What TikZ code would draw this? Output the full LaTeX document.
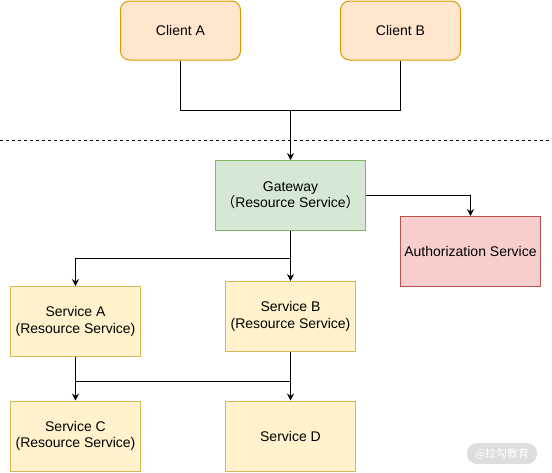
\documentclass[tikz,border=0pt]{standalone}
\usepackage{fontspec}
\setmainfont{Liberation Sans}
\newfontfamily\cjkfont{Noto Sans CJK SC}
\usetikzlibrary{arrows.meta}
\definecolor{clientfill}{HTML}{FFE6CC}
\definecolor{clientdraw}{HTML}{D79B00}
\definecolor{gwfill}{HTML}{D5E8D4}
\definecolor{gwdraw}{HTML}{82B366}
\definecolor{authfill}{HTML}{F8CECC}
\definecolor{authdraw}{HTML}{B85450}
\definecolor{svcfill}{HTML}{FFF2CC}
\definecolor{svcdraw}{HTML}{D6B656}
\definecolor{wmfill}{HTML}{DDDDDD}
\tikzset{
  box/.style={draw, line width=1pt, inner sep=2pt, align=center, font=\fontsize{14}{16.5}\selectfont},
  client/.style={box, fill=clientfill, draw=clientdraw, rounded corners=9pt, minimum width=120pt, minimum height=59pt},
  gw/.style={box, fill=gwfill, draw=gwdraw, minimum width=150pt, minimum height=70pt},
  auth/.style={box, fill=authfill, draw=authdraw, minimum width=140pt, minimum height=70pt},
  svc/.style={box, fill=svcfill, draw=svcdraw, minimum width=130pt, minimum height=70pt},
  conn/.style={line width=1pt, black},
  arr/.style={conn, -{Stealth[length=7pt,width=7pt,inset=2.5pt]}},
}
\begin{document}
\begin{tikzpicture}[x=1pt,y=-1pt]
\useasboundingbox (0,0) rectangle (552,472);
\node[client] (ca) at (180.5,30.5) {Client A};
\node[client] (cb) at (400.5,30.5) {Client B};
\node[gw] (gw) at (290.5,195.5) {Gateway\\{\cjkfont （}Resource Service{\cjkfont ）}};
\node[auth] (auth) at (470.5,251.5) {Authorization Service};
\node[svc] (sa) at (75.5,321.5) {Service A\\(Resource Service)};
\node[svc] (sb) at (290.5,316.5) {Service B\\(Resource Service)};
\node[svc] (sc) at (75.5,436) {Service C\\(Resource Service)};
\node[svc] (sd) at (290.5,436) {Service D};
\coordinate (j1) at (290.5,110);
\coordinate (j2) at (290.5,258);
\coordinate (j3) at (290.5,381);
\coordinate (dl) at (0,140.5);
\coordinate (dr) at (552,140.5);
\draw[conn, dash pattern=on 3pt off 3pt] (dl) -- (dr);
\draw[conn] (ca.south) |- (j1);
\draw[conn] (cb.south) |- (j1);
\draw[arr] (j1) -- (gw.north);
\draw[arr] (gw.east) -| (auth.north);
\draw[conn] (gw.south) -- (j2);
\draw[arr] (j2) -| (sa.north);
\draw[arr] (j2) -- (sb.north);
\draw[arr] (sa.south) -- (sc.north);
\draw[arr] (sb.south) -- (sd.north);
\draw[conn] (sa.south |- j3) -- (j3);
\node[fill=wmfill, rounded corners=10pt, minimum width=70pt, minimum height=21pt, inner sep=0pt, text=white, font=\cjkfont\fontsize{11}{13}\selectfont] (wm) at (502,453.5) {@拉勾教育};
\end{tikzpicture}
\end{document}
